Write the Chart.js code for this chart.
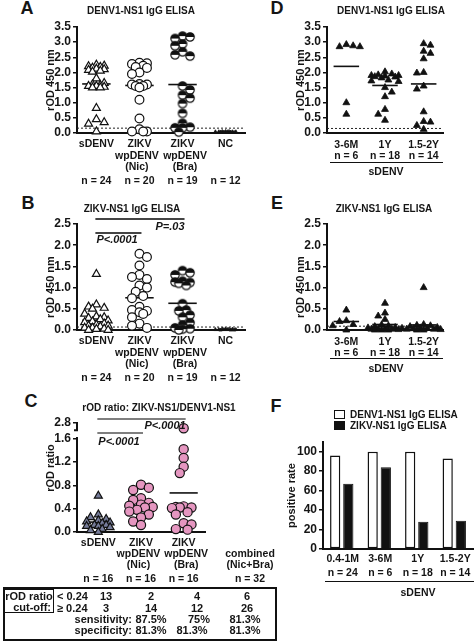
<!DOCTYPE html>
<html><head><meta charset="utf-8">
<script src="https://cdn.jsdelivr.net/npm/chart.js@4.4.0/dist/chart.umd.min.js"></script>
<style>
html,body{margin:0;padding:0;background:#fff;}
#root{position:relative;width:474px;height:641px;overflow:hidden;background:#fff;font-family:'Liberation Sans',Arial,Helvetica,sans-serif;color:#151515;}
.t{position:absolute;white-space:nowrap;font-weight:bold;font-size:11px;line-height:1;}
canvas{position:absolute;}
.hl{position:absolute;border-top:1.5px solid #111;height:0;}
.box{position:absolute;box-sizing:border-box;}
</style></head><body><div id="root"></div>
<script>
// ---------------- DATA ----------------
// Panel A: DENV1-NS1 IgG ELISA (rOD 450 nm)
const aCats = ['sDENV', 'ZIKV wpDENV (Nic)', 'ZIKV wpDENV (Bra)', 'NC'];
const aN = [24, 20, 19, 12];
const aSDENV = [2.25,2.22,2.2,2.18,2.15,2.12,2.1,2.08,2.05,2.02,1.8,1.65,1.6,1.58,1.55,1.55,1.52,1.5,1.5,0.82,0.45,0.35,0.3,0.05];
const aNic = [2.32,2.3,2.28,2.22,2.18,2.15,2.0,1.95,1.62,1.6,1.6,1.55,1.55,1.5,1.1,0.48,0.12,0.05,0.05,0.05];
const aBra = [3.2,3.17,3.12,2.94,2.88,2.68,2.58,2.54,1.55,1.42,1.25,1.15,0.97,0.65,0.32,0.19,0.17,0.17,0.03];
const aNC = [0.05,0.04,0.04,0.03,0.05,0.03,0.04,0.02,0.05,0.03,0.04,0.04];
const aMeans = [1.62, 1.57, 1.6];
const aCut = 0.16;
// Panel B: ZIKV-NS1 IgG ELISA
const bSDENV = [1.32,0.6,0.55,0.52,0.5,0.38,0.32,0.3,0.28,0.25,0.22,0.2,0.18,0.15,0.12,0.1,0.1,0.08,0.05,0.05,0.03,0.02,0.0,0.0];
const bNic = [1.8,1.72,1.52,1.3,1.25,1.2,1.05,1.0,0.9,0.8,0.75,0.55,0.47,0.45,0.42,0.38,0.3,0.15,0.1,0.05];
const bBra = [1.4,1.35,1.3,1.15,1.13,1.12,1.1,1.05,0.62,0.47,0.45,0.35,0.3,0.17,0.12,0.05,0.03,0.02,0.0];
const bNC = [0.01,0.02,0.01,0.0,0.02,0.01,0.02,0.0,0.01,0.02,0.01,0.0];
const bMeans = [0.23, 0.76, 0.63];
const bCut = 0.07;
// Panel C: rOD ratio ZIKV-NS1/DENV1-NS1
const cN = [16, 16, 16, 32];
const cSDENV = [0.62,0.3,0.25,0.22,0.2,0.18,0.16,0.15,0.12,0.12,0.1,0.1,0.08,0.05,0.03,0.0];
const cNic = [0.81,0.76,0.72,0.58,0.55,0.5,0.47,0.45,0.43,0.42,0.38,0.35,0.3,0.25,0.18,0.12];
const cBra = [2.4,1.42,1.27,1.12,1.01,0.44,0.43,0.42,0.42,0.41,0.34,0.3,0.15,0.13,0.05,0.04];
const cMeans = [0.17, 0.45, 0.67];
const cTicks = [0, 0.4, 0.8, 1.2, 1.6, 2.8];
// Panel D: DENV1-NS1 IgG ELISA by time after infection
const dCats = ['3-6M', '1Y', '1.5-2Y'];
const dN = [6, 18, 14];
const d36 = [2.92,2.88,2.85,2.85,1.0,0.62];
const d1Y = [2.02,1.95,1.92,1.9,1.9,1.88,1.86,1.85,1.82,1.75,1.72,1.7,1.5,1.35,1.2,0.78,0.62,0.42];
const d152 = [2.95,2.9,2.7,2.63,2.45,2.0,1.98,1.55,1.45,0.7,0.38,0.36,0.25,0.12];
const dMeans = [2.2, 1.57, 1.62];
const dCut = 0.15;
// Panel E: ZIKV-NS1 IgG ELISA by time after infection
const e36 = [0.47,0.22,0.2,0.13,0.1,0.0];
const e1Y = [0.63,0.4,0.33,0.25,0.12,0.1,0.08,0.06,0.05,0.04,0.03,0.03,0.02,0.02,0.01,0.0,0.0,0.0];
const e152 = [1.0,0.13,0.11,0.1,0.08,0.06,0.05,0.04,0.03,0.02,0.02,0.01,0.0,0.0];
const eMeans = [0.2, 0.13, 0.12];
const eCut = 0.09;
// Panel F: positive rate
const fCats = ['0.4-1M', '3-6M', '1Y', '1.5-2Y'];
const fN = [24, 6, 18, 14];
const fDenv = [96, 100, 100, 93];
const fZikv = [67, 84, 28, 29];
const fTicks = [0, 20, 40, 60, 80, 100];
// Table
const tblRow1 = ['13', '2', '4', '6'];
const tblRow2 = ['3', '14', '12', '26'];
const tblSens = ['87.5%', '75%', '81.3%'];
const tblSpec = ['81.3%', '81.3%', '81.3%'];

// ---------------- LAYOUT ----------------
const FONT = "'Liberation Sans', Arial, Helvetica, sans-serif";
const YW = 34, PT = 14, PB = 10, PR = 6;
const geo = {
  A:{L:77,R:245,T:27,B:133,xmin:0.55,xmax:4.45,ymax:3.5},
  B:{L:77,R:245,T:224,B:330,xmin:0.55,xmax:4.45,ymax:2.5},
  C:{L:77,R:205,T:418,B:532,xmin:0.5,xmax:3.5,ymax:1.955},
  D:{L:327,R:443,T:27,B:133,xmin:0.5,xmax:3.5,ymax:3.5},
  E:{L:327,R:443,T:224,B:330,xmin:0.5,xmax:3.5,ymax:2.5},
  F:{L:323,R:473,T:442,B:549,ymax:110}
};
const root = document.getElementById('root');
function cx(g, i){ return g.L + (i + 1 - g.xmin) * (g.R - g.L) / (g.xmax - g.xmin); }
function T(text, x, y, o = {}) {
  const d = document.createElement('div'); d.className = 't'; d.textContent = text;
  d.style.fontSize = (o.size || 11) + 'px';
  if (o.italic) d.style.fontStyle = 'italic';
  const ax = o.align === 'left' ? '0' : o.align === 'right' ? '-100%' : '-50%';
  d.style.left = x + 'px'; d.style.top = y + 'px';
  d.style.transform = `translate(${ax},-50%)` + (o.rot ? ' rotate(-90deg)' : '');
  root.appendChild(d); return d;
}
function HL(x1, x2, y){ const d=document.createElement('div'); d.className='hl'; d.style.left=x1+'px'; d.style.width=(x2-x1)+'px'; d.style.top=y+'px'; root.appendChild(d); }
function BOX(x, y, w, h, bw){ const d=document.createElement('div'); d.className='box'; Object.assign(d.style,{left:x+'px',top:y+'px',width:w+'px',height:h+'px',border:bw+'px solid #111'}); root.appendChild(d); }
function mkCanvas(g, pr, yw){
  yw = yw || YW;
  const c = document.createElement('canvas');
  const w = g.R - g.L + yw + pr, h = g.B - g.T + PT + PB;
  c.width = w; c.height = h; c.style.width = w + 'px'; c.style.height = h + 'px';
  c.style.left = (g.L - yw) + 'px'; c.style.top = (g.T - PT) + 'px';
  root.appendChild(c); return c;
}
// beeswarm: spread points sideways so markers don't pile up
function swarm(vals, center, r, pxX, pxY, maxHalf){
  const placed = [], out = [];
  const step = r * 0.85, minD = r * 1.55;
  const order = vals.map((v,i)=>i).sort((a,b)=>vals[b]-vals[a]);
  order.forEach((idx, n) => {
    const v = vals[idx], yp = v * pxY;
    let best = 0, bestScore = -1, done = false;
    for (let k = 0; k * step <= maxHalf && !done; k++) {
      const signs = k === 0 ? [0] : (n % 2 ? [1, -1] : [-1, 1]);
      for (const s of signs) {
        const dx = s * k * step;
        let md = Infinity;
        placed.forEach(p => { const d = Math.hypot(p.dx - dx, p.yp - yp); if (d < md) md = d; });
        if (md >= minD) { best = dx; done = true; break; }
        if (md > bestScore) { bestScore = md; best = dx; }
      }
    }
    placed.push({dx: best, yp});
    out.push({x: center + best / pxX, y: v});
  });
  return out;
}
function halfCircle(r){
  const s = Math.ceil(2 * r + 3), c = document.createElement('canvas');
  c.width = s; c.height = s; const x = c.getContext('2d'), m = s / 2;
  x.beginPath(); x.arc(m, m, r, 0, Math.PI * 2); x.fillStyle = '#fff'; x.fill();
  x.beginPath(); x.arc(m, m, r, Math.PI, 0); x.closePath(); x.fillStyle = '#111'; x.fill();
  x.beginPath(); x.arc(m, m, r, 0, Math.PI * 2); x.lineWidth = 1.2; x.strokeStyle = '#111'; x.stroke();
  return c;
}
const tickFont = {family: FONT, size: 12, weight: 'bold'};

function scatterPanel(g, groups, opt){
  const c = mkCanvas(g, PR);
  const pxX = (g.R - g.L) / (g.xmax - g.xmin), pxY = (g.B - g.T) / g.ymax;
  const tf = opt.tf || (v => v);
  const ds = [];
  groups.forEach((gr, i) => {
    ds.push({type:'scatter', data: swarm(gr.vals.map(tf), i + 1, gr.r, pxX, pxY, gr.spread || 11),
      pointStyle: gr.style, pointRadius: gr.r, pointBackgroundColor: gr.fill, pointBorderColor: '#111',
      pointBorderWidth: gr.bw == null ? 1.2 : gr.bw, clip: false, showLine: false});
  });
  (opt.means || []).forEach((m, i) => {
    ds.push({type:'line', data:[{x:i+1-0.33,y:tf(m)},{x:i+1+0.33,y:tf(m)}], borderColor:'#111', borderWidth:1.6, pointRadius:0, clip:false});
  });
  if (opt.cut != null) ds.push({type:'line', data:[{x:g.xmin,y:opt.cut},{x:g.xmax,y:opt.cut}], borderColor:'#222', borderWidth:1, borderDash:[2,2], pointRadius:0, clip:false});
  const top0 = g.T - PT;
  const plugins = [{id:'extras', afterDraw(chart){
    const ctx = chart.ctx, xs = chart.scales.x, ys = chart.scales.y;
    ctx.save();
    (opt.brackets || []).forEach(b => {
      const x1 = xs.getPixelForValue(b.a) - 1, x2 = xs.getPixelForValue(b.b) + 2;
      ctx.strokeStyle = b.color || '#444'; ctx.lineWidth = b.w || 2;
      ctx.beginPath(); ctx.moveTo(x1, b.y - top0); ctx.lineTo(x2, b.y - top0); ctx.stroke();
      ctx.fillStyle = '#151515'; ctx.font = 'italic bold 11px ' + FONT; ctx.textBaseline = 'middle';
      ctx.textAlign = b.la; ctx.fillText(b.label, b.la === 'right' ? x2 : x1 + 1, b.ly - top0);
    });
    if (opt.broken) {
      const L = chart.chartArea.left;
      ctx.strokeStyle = '#111'; ctx.lineWidth = 2;
      ctx.beginPath(); ctx.moveTo(L, ys.getPixelForValue(0) + 1); ctx.lineTo(L, ys.getPixelForValue(1.63)); ctx.stroke();
      ctx.beginPath(); ctx.moveTo(L, ys.getPixelForValue(opt.topTick) - 1); ctx.lineTo(L, ys.getPixelForValue(1.745));
      ctx.lineTo(L - 3, ys.getPixelForValue(1.745)); ctx.stroke();
    }
    ctx.restore();
  }}];
  return new Chart(c, {
    type: 'scatter',
    data: {datasets: ds},
    options: {
      responsive: false, animation: false, events: [],
      layout: {padding: {top: PT, bottom: PB, right: PR, left: 0}},
      plugins: {legend: {display: false}, tooltip: {enabled: false}},
      scales: {
        x: {type:'linear', min:g.xmin, max:g.xmax, ticks:{display:false}, grid:{display:false},
            border:{display:true, width:2, color:'#111'}, afterFit: s => { s.height = 0; }},
        y: {type:'linear', min:0, max:g.ymax,
            afterFit: s => { s.width = YW; },
            afterBuildTicks: opt.tickVals ? (s => { s.ticks = opt.tickVals.map(v => ({value: v})); }) : undefined,
            ticks:{stepSize: opt.step, autoSkip:false, font: tickFont, color:'#151515', padding:2,
                   callback: opt.tickCb || (v => Number(v).toFixed(1))},
            grid:{display:true, drawOnChartArea:false, drawTicks:true, tickLength:4, color:'#111', lineWidth:1.5},
            border:{display: !opt.broken, width:2, color:'#111'}}
      }
    },
    plugins
  });
}

// ---- marker styles
const openTri = {style:'triangle', r:4.6, fill:'#fff'};
const openCirc = {style:'circle', r:4.4, fill:'#fff'};
const halfC = {style: halfCircle(4.2), r:4.4, fill:'#fff'};
const ncMark = {style:'triangle', r:2, fill:'#111', bw:0.8};
const pinkC = {style:'circle', r:4.6, fill:'#e596c0'};
const grayTri = {style:'triangle', r:4.6, fill:'#767c9a'};
const blackTri = {style:'triangle', r:4, fill:'#111', bw:0.8};

scatterPanel(geo.A, [
  Object.assign({vals:aSDENV}, openTri),
  Object.assign({vals:aNic}, openCirc),
  Object.assign({vals:aBra}, halfC),
  Object.assign({vals:aNC}, ncMark)
], {means:aMeans, cut:aCut, step:0.5});
scatterPanel(geo.B, [
  Object.assign({vals:bSDENV, spread:13}, openTri),
  Object.assign({vals:bNic}, openCirc),
  Object.assign({vals:bBra}, halfC),
  Object.assign({vals:bNC}, ncMark)
], {means:bMeans, cut:bCut, step:0.5, brackets:[
  {a:1, b:3, y:219, label:'P=.03', ly:227, la:'right'},
  {a:1, b:2, y:233, label:'P<.0001', ly:240, la:'left'}
]});
const brk = v => v <= 1.6 ? v : 1.6 + (v - 1.6) * 0.225;
scatterPanel(geo.C, [
  Object.assign({vals:cSDENV, spread:13}, grayTri),
  Object.assign({vals:cNic, spread:13}, pinkC),
  Object.assign({vals:cBra, spread:14}, pinkC)
], {means:cMeans, tf:brk, broken:true, topTick:brk(2.8),
    tickVals: cTicks.map(brk),
    tickCb: v => { const i = cTicks.map(brk).findIndex(t => Math.abs(t - v) < 1e-6); return i >= 0 ? cTicks[i].toFixed(1) : ''; },
    brackets:[
      {a:1, b:3, y:419, label:'P<.0001', ly:426, la:'right', color:'#555', w:1.5},
      {a:1, b:2, y:433, label:'P<.0001', ly:442, la:'left', color:'#555', w:1.5}
    ]});
scatterPanel(geo.D, [
  Object.assign({vals:d36, spread:14}, blackTri),
  Object.assign({vals:d1Y, spread:14}, blackTri),
  Object.assign({vals:d152, spread:14}, blackTri)
], {means:dMeans, cut:dCut, step:0.5});
scatterPanel(geo.E, [
  Object.assign({vals:e36, spread:15}, blackTri),
  Object.assign({vals:e1Y, spread:17}, blackTri),
  Object.assign({vals:e152, spread:17}, blackTri)
], {means:eMeans, cut:eCut, step:0.5});

// ---- F bar chart: one canvas holds the y title, tick labels and bars
(function(){
  const g = geo.F, FYW = 42, c = mkCanvas(g, 1, FYW);
  new Chart(c, {
    type:'bar',
    data:{labels:fCats, datasets:[
      {label:'DENV1-NS1 IgG ELISA', data:fDenv, backgroundColor:'#fff', borderColor:'#111', borderWidth:1.5, borderSkipped:false},
      {label:'ZIKV-NS1 IgG ELISA', data:fZikv, backgroundColor:'#111', borderColor:'#111', borderWidth:1}
    ]},
    options:{
      responsive:false, animation:false, events:[],
      layout:{padding:{top:PT, bottom:PB, right:1, left:0}},
      categoryPercentage:0.7, barPercentage:0.78,
      plugins:{legend:{display:false}, tooltip:{enabled:false}},
      scales:{
        x:{ticks:{display:false}, grid:{display:false}, border:{display:true, width:2, color:'#111'}, afterFit:s=>{s.height=0;}},
        y:{type:'linear', position:'left', min:0, max:g.ymax, afterFit:s=>{s.width=FYW;},
           afterBuildTicks: s => { s.ticks = fTicks.map(v => ({value: v})); },
           title:{display:true, text:'positive rate', font:{family:FONT, size:11, weight:'bold'}, color:'#151515', padding:{top:4, bottom:0}},
           ticks:{autoSkip:false, font: tickFont, color:'#151515', padding:2, callback: v => String(v)},
           grid:{display:true, drawOnChartArea:false, drawTicks:true, tickLength:4, lineWidth:1.5, color:'#111'},
           border:{display:true, width:2, color:'#111'}}
      }
    }
  });
})();

// ---------------- TEXT ----------------
[['A',27,8],['B',28,203],['C',31,401],['D',277,8],['E',277,203],['F',276,406]].forEach(p => T(p[0], p[1], p[2], {size:18}));
T('DENV1-NS1 IgG ELISA', 141, 11, {size:10});
T('ZIKV-NS1 IgG ELISA', 132, 209, {size:10});
T('rOD ratio: ZIKV-NS1/DENV1-NS1', 159, 408, {size:10});
T('DENV1-NS1 IgG ELISA', 391, 11, {size:10});
T('ZIKV-NS1 IgG ELISA', 384, 209, {size:10});
T('rOD 450 nm', 50, 80, {rot:true});
T('rOD 450 nm', 50, 287, {rot:true});
T('rOD ratio', 50, 468, {rot:true});
T('rOD 450 nm', 300, 80, {rot:true});
T('rOD 450 nm', 300, 287, {rot:true});
const LS = 10.5;
const labShift = [0, -2.5, 2.5, 0];
function abLabels(g, y0, n){
  const rows = [['sDENV'], ['ZIKV','wpDENV','(Nic)'], ['ZIKV','wpDENV','(Bra)'], ['NC']];
  rows.forEach((r, i) => r.forEach((s, j) => T(s, cx(g, i) + (j ? labShift[i] : 0), y0 + j * 11.5, {size:LS})));
  n.forEach((v, i) => T('n = ' + v, cx(g, i), y0 + 37, {size:LS}));
}
abLabels(geo.A, 143, aN);
abLabels(geo.B, 340, aN);
(function(){
  const g = geo.C, y0 = 542;
  const rows = [['sDENV'], ['ZIKV','wpDENV','(Nic)'], ['ZIKV','wpDENV','(Bra)']];
  rows.forEach((r, i) => r.forEach((s, j) => T(s, cx(g, i) + (j ? labShift[i] : 0), y0 + j * 11.2, {size:LS})));
  T('combined', 250, 553, {size:LS}); T('(Nic+Bra)', 250, 564, {size:LS});
  cN.forEach((v, i) => T('n = ' + v, i < 3 ? cx(g, i) : 250, 578, {size:LS}));
})();
function deLabels(g, y0, ln, sy){
  dCats.forEach((s, i) => { T(s, cx(g, i), y0, {size:LS}); T('n = ' + dN[i], cx(g, i), y0 + 11, {size:LS}); });
  HL(330, 443, ln); T('sDENV', 386, sy, {size:LS});
}
deLabels(geo.D, 144, 162, 171);
deLabels(geo.E, 341, 358, 368);
(function(){
  const g = geo.F, w = (g.R - g.L) / fCats.length;
  fCats.forEach((s, i) => { const x = g.L + w * (i + 0.5); T(s, x + 1, 558, {size:LS}); T('n = ' + fN[i], x + 1, 572, {size:LS}); });
  HL(325, 474, 581); T('sDENV', 418, 592, {size:LS});
  BOX(334, 410, 11, 9, 1.3);
  const b2 = document.createElement('div'); b2.className='box'; Object.assign(b2.style,{left:'334px',top:'421px',width:'11px',height:'9px',background:'#111'}); root.appendChild(b2);
  T('DENV1-NS1 IgG ELISA', 350, 415, {size:10, align:'left'});
  T('ZIKV-NS1 IgG ELISA', 350, 426, {size:10, align:'left'});
})();
BOX(3, 587, 274, 54, 2);
BOX(4, 589, 50, 24, 1.5);
T('rOD ratio', 29, 596);
T('cut-off:', 51, 607, {align:'right'});
T('< 0.24', 57, 596, {align:'left'});
T('\u2265 0.24', 57, 608, {align:'left'});
const colX = [106, 151, 197, 247];
tblRow1.forEach((s, i) => T(s, colX[i], 596));
tblRow2.forEach((s, i) => T(s, colX[i], 608));
T('sensitivity:', 132, 619, {align:'right'});
T('specificity:', 132, 630, {align:'right'});
const sensX = [151, 199, 245], specX = [151, 192, 245];
tblSens.forEach((s, i) => T(s, sensX[i], 619));
tblSpec.forEach((s, i) => T(s, specX[i], 630));
</script></body></html>
